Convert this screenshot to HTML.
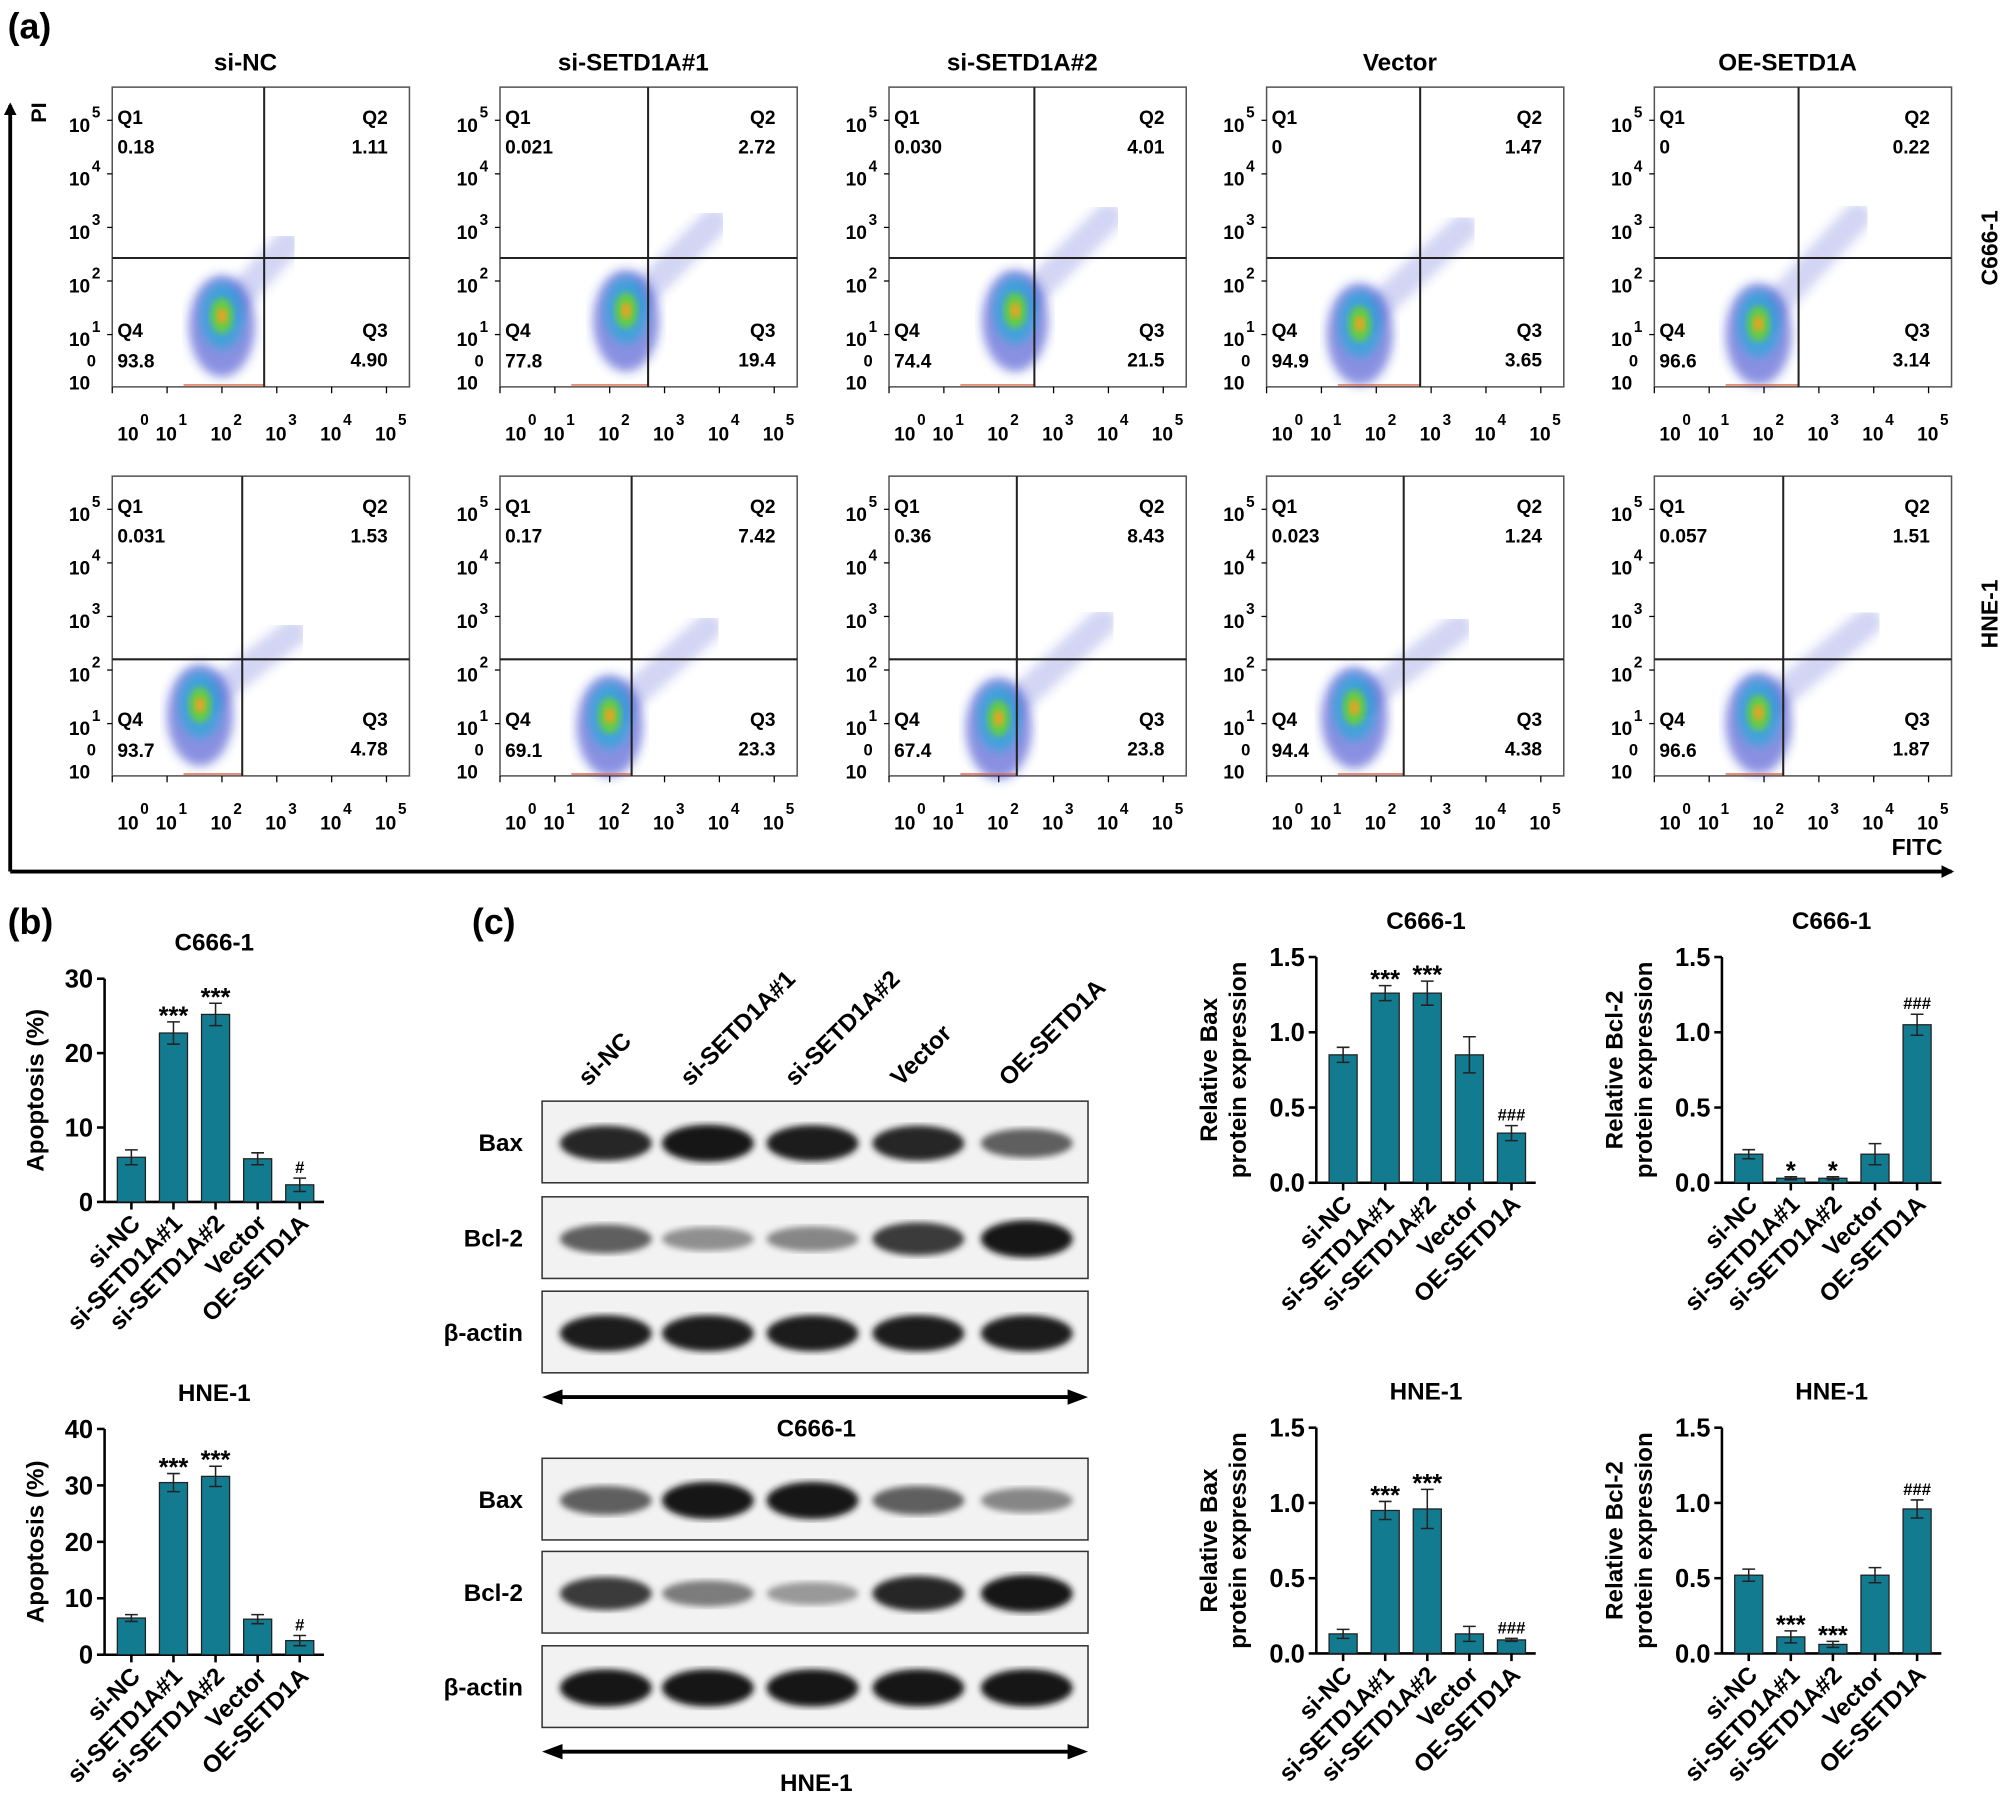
<!DOCTYPE html>
<html><head><meta charset="utf-8">
<style>
html,body{margin:0;padding:0;background:#fff;}
svg{display:block;font-family:"Liberation Sans",Arial,sans-serif;}
text{font-weight:bold;}
</style></head>
<body>
<svg id="fig" width="2000" height="1812" viewBox="0 0 1568 1420" xmlns="http://www.w3.org/2000/svg">
<defs>
<filter id="blur2"><feGaussianBlur stdDeviation="2.5"/></filter>
<filter id="blur4"><feGaussianBlur stdDeviation="4"/></filter>
<marker id="arr" markerWidth="10" markerHeight="10" refX="8" refY="5" orient="auto" markerUnits="userSpaceOnUse"><path d="M0,0 L10,5 L0,10 z" fill="#000"/></marker>
</defs>
<text x="6" y="30" font-size="28">(a)</text>
<line x1="8" y1="683" x2="8" y2="82" stroke="#000" stroke-width="3" marker-end="url(#arr)"/>
<line x1="8" y1="683" x2="1530" y2="683" stroke="#000" stroke-width="3" marker-end="url(#arr)"/>
<text x="0" y="0" font-size="17" transform="translate(36,96) rotate(-90)">PI</text>
<text x="1483" y="670" font-size="18">FITC</text>
<text x="370" y="732" font-size="28">(c)</text>
<text x="6" y="732" font-size="28">(b)</text>
<g id="flow"></g>
<g id="blot"></g>
<g id="bars"></g>
</svg>
<script>
const NS="http://www.w3.org/2000/svg";
function mk(tag,attrs,parent,txt){const e=document.createElementNS(NS,tag);for(const k in attrs)e.setAttribute(k,attrs[k]);if(txt!==undefined)e.textContent=txt;parent.appendChild(e);return e;}

// ---------- Flow cytometry data ----------
const flowTitles=["si-NC","si-SETD1A#1","si-SETD1A#2","Vector","OE-SETD1A"];
const flowRows=["C666-1","HNE-1"];
const q1Vals=[["0.18","0.021","0.030","0","0"],["0.031","0.17","0.36","0.023","0.057"]];
const q2Vals=[["1.11","2.72","4.01","1.47","0.22"],["1.53","7.42","8.43","1.24","1.51"]];
const q3Vals=[["4.90","19.4","21.5","3.65","3.14"],["4.78","23.3","23.8","4.38","1.87"]];
const q4Vals=[["93.8","77.8","74.4","94.9","96.6"],["93.7","69.1","67.4","94.4","96.6"]];
// quadrant gate positions (log10 units)
const gateX=[[2.77,2.7,2.65,2.8,2.63],[2.37,2.4,2.33,2.5,2.35]];
const gateY=[[2.43,2.43,2.43,2.43,2.43],[2.2,2.2,2.2,2.2,2.2]];
// main cluster centre (log10) and tail extent
const clusterX=[[2.0,2.3,2.3,1.7,1.9],[1.6,2.0,2.0,1.6,1.9]];
const clusterY=[[1.35,1.45,1.45,1.2,1.2],[1.35,1.15,1.1,1.3,1.2]];
const tailX=[[3.2,3.9,4.0,3.6,3.7],[3.3,3.8,3.9,3.5,3.9]];
const tailY=[[2.7,3.1,3.2,3.0,3.2],[2.7,2.8,2.9,2.8,2.9]];

const flowG=document.getElementById('flow');
const colX=[88,392,697,993,1297];
const rowY=[68,373];
const W=233,H=235;
function lx(v){return 43*v;}
function ly(v){return 194-42*(v-1);}
flowTitles.forEach((t,c)=>{
  const el=mk('text',{x:colX[c]+W/2-12,y:55,'font-size':19,'text-anchor':'middle'},flowG,t);
  
  
});
const rowLabY=[194,481];
flowRows.forEach((r,ri)=>{
  const el=mk('text',{transform:`translate(1566,${rowLabY[ri]}) rotate(-90)`,'font-size':18,'text-anchor':'middle'},flowG,r);
  
  
  for(let c=0;c<5;c++){
    const g=mk('g',{transform:`translate(${colX[c]},${rowY[ri]})`},flowG);
    
    
    mk('rect',{x:0,y:0,width:W,height:H,fill:'#fff',stroke:'#555','stroke-width':1.2},g);
    const cx=lx(clusterX[ri][c]),cy=ly(clusterY[ri][c]);
    const tx=lx(tailX[ri][c]),ty=ly(tailY[ri][c]);
    mk('line',{x1:cx,y1:cy,x2:tx,y2:ty,stroke:'#3344cc','stroke-width':22,'stroke-opacity':0.22,'stroke-linecap':'round',filter:'url(#blur4)'},g);
    mk('ellipse',{cx:cx,cy:cy+8,rx:26,ry:40,fill:'#2a36c8','fill-opacity':0.55,filter:'url(#blur4)'},g);
    mk('ellipse',{cx:cx,cy:cy,rx:17,ry:26,fill:'#2aa8d8','fill-opacity':0.75,filter:'url(#blur4)'},g);
    mk('ellipse',{cx:cx,cy:cy,rx:9,ry:14,fill:'#66cc44',filter:'url(#blur2)'},g);
    mk('ellipse',{cx:cx,cy:cy,rx:4,ry:6,fill:'#f0a020',filter:'url(#blur2)'},g);
    mk('line',{x1:lx(1.3),y1:H-1.5,x2:lx(gateX[ri][c]),y2:H-1.5,stroke:'#e06040','stroke-width':1.5,'stroke-opacity':0.7},g);
    const gx=lx(gateX[ri][c]),gy=ly(gateY[ri][c]);
    mk('line',{x1:gx,y1:0,x2:gx,y2:H,stroke:'#222','stroke-width':1.6},g);
    mk('line',{x1:0,y1:gy,x2:W,y2:gy,stroke:'#222','stroke-width':1.6},g);
    const f={'font-size':15};
    mk('text',Object.assign({x:4,y:29},f),g,'Q1');
    mk('text',Object.assign({x:4,y:52},f),g,q1Vals[ri][c]);
    mk('text',Object.assign({x:W-17,y:29,'text-anchor':'end'},f),g,'Q2');
    mk('text',Object.assign({x:W-17,y:52,'text-anchor':'end'},f),g,q2Vals[ri][c]);
    mk('text',Object.assign({x:4,y:196},f),g,'Q4');
    mk('text',Object.assign({x:4,y:220},f),g,q4Vals[ri][c]);
    mk('text',Object.assign({x:W-17,y:196,'text-anchor':'end'},f),g,'Q3');
    mk('text',Object.assign({x:W-17,y:219,'text-anchor':'end'},f),g,q3Vals[ri][c]);
    // y ticks
    [5,4,3,2,1].forEach(p=>{
      const y=ly(p);
      mk('line',{x1:-4,y1:y,x2:0,y2:y,stroke:'#000'},g);
      mk('text',{x:-34,y:y+9,'font-size':15},g,'10');
      mk('text',{x:-16,y:y-2,'font-size':12},g,String(p));
    });
    mk('text',{x:-20,y:H-16,'font-size':13},g,'0');
    mk('text',{x:-34,y:H+2,'font-size':15},g,'10');
    // x ticks
    [0,1,2,3,4,5].forEach(p=>{
      const x=p===0?4:lx(p)-9;
      mk('line',{x1:lx(p),y1:H,x2:lx(p),y2:H+5,stroke:'#000'},g);
      mk('text',{x:x,y:H+42,'font-size':15},g,'10');
      mk('text',{x:x+18,y:H+30,'font-size':12},g,String(p));
    });
  }
});

// ---------- Western blots ----------
const lanes=["si-NC","si-SETD1A#1","si-SETD1A#2","Vector","OE-SETD1A"];
const laneX=[475,555,637,720,805];
const blotRows=["Bax","Bcl-2","β-actin","Bax","Bcl-2","β-actin"];
const blotTop=[863,938,1012,1143,1216,1290];
const bandC666Bax=[0.85,0.95,0.9,0.85,0.55];
const bandC666Bcl=[0.55,0.3,0.35,0.75,0.95];
const bandC666Act=[0.9,0.9,0.9,0.9,0.9];
const bandHNEBax=[0.55,0.95,0.95,0.55,0.35];
const bandHNEBcl=[0.75,0.4,0.25,0.85,0.95];
const bandHNEAct=[0.95,0.95,0.95,0.95,0.95];
const bands=[bandC666Bax,bandC666Bcl,bandC666Act,bandHNEBax,bandHNEBcl,bandHNEAct];
const blotG=document.getElementById('blot');
lanes.forEach((l,i)=>{
  const el=mk('text',{transform:`translate(${laneX[i]-14},${852}) rotate(-45)`,'font-size':19,'text-anchor':'start','font-weight':'normal'},blotG,l);
  
  
});
blotRows.forEach((r,ri)=>{
  const y=blotTop[ri];
  const g=mk('g',{},blotG);
  
  
  mk('rect',{x:425,y:y,width:428,height:64,fill:'#f2f2f2',stroke:'#333','stroke-width':1.2},g);
  mk('text',{x:410,y:y+39,'font-size':19,'text-anchor':'end'},g,r);
  bands[ri].forEach((v,i)=>{
    const gray=Math.round(200-190*v);
    mk('ellipse',{cx:laneX[i],cy:y+33,rx:36,ry:7+8*v,fill:`rgb(${gray},${gray},${gray})`,filter:'url(#blur2)'},g);
  });
});
[[1095,1120,"C666-1"],[1373,1398,"HNE-1"]].forEach(([ay,ty,t])=>{
  const l=mk('line',{x1:440,y1:ay,x2:838,y2:ay,stroke:'#000','stroke-width':3},blotG);
  
  
  mk('path',{d:`M425,${ay} L441,${ay-6} L441,${ay+6} z`,fill:'#000'},blotG);
  mk('path',{d:`M853,${ay} L837,${ay-6} L837,${ay+6} z`,fill:'#000'},blotG);
  const tt=mk('text',{x:640,y:ty+6,'font-size':19,'text-anchor':'middle'},blotG,t);
  
  
});

// ---------- Bar charts ----------
const categories=["si-NC","si-SETD1A#1","si-SETD1A#2","Vector","OE-SETD1A"];
const apopC666=[6.0,22.7,25.2,5.8,2.3];
const apopC666Err=[1.0,1.5,1.5,0.8,0.9];
const apopC666Sig=["","***","***","","#"];
const apopHNE=[6.5,30.5,31.6,6.3,2.5];
const apopHNEErr=[0.6,1.6,1.8,0.8,0.9];
const apopHNESig=["","***","***","","#"];
const baxC666=[0.85,1.26,1.26,0.85,0.33];
const baxC666Err=[0.05,0.05,0.08,0.12,0.05];
const baxC666Sig=["","***","***","","###"];
const bclC666=[0.19,0.03,0.03,0.19,1.05];
const bclC666Err=[0.03,0.01,0.01,0.07,0.07];
const bclC666Sig=["","*","*","","###"];
const baxHNE=[0.13,0.95,0.96,0.13,0.09];
const baxHNEErr=[0.03,0.06,0.13,0.05,0.01];
const baxHNESig=["","***","***","","###"];
const bclHNE=[0.52,0.11,0.06,0.52,0.96];
const bclHNEErr=[0.04,0.04,0.02,0.05,0.06];
const bclHNESig=["","***","***","","###"];
const ticksApop30=[0,10,20,30];
const ticksApop40=[0,10,20,30,40];
const ticksRel=["0.0","0.5","1.0","1.5"];

const barsG=document.getElementById('bars');
function barChart(o){
  const g=mk('g',{},barsG);
  
  
  const ymax=o.ticks[o.ticks.length-1]*1;
  const sy=v=>o.y0-(v/ymax)*(o.y0-o.y1);
  const sx=i=>o.x0+21+i*33;
  mk('text',{x:o.x0+86,y:o.y1-22,'font-size':19,'text-anchor':'middle'},g,o.title);
  mk('line',{x1:o.x0,y1:o.y1,x2:o.x0,y2:o.y0,stroke:'#000','stroke-width':2},g);
  mk('line',{x1:o.x0,y1:o.y0,x2:o.x0+172,y2:o.y0,stroke:'#000','stroke-width':2},g);
  o.ticks.forEach(t=>{
    const y=sy(+t);
    mk('line',{x1:o.x0-6,y1:y,x2:o.x0,y2:y,stroke:'#000','stroke-width':2},g);
    mk('text',{x:o.x0-9,y:y+7,'font-size':20,'text-anchor':'end'},g,String(t));
  });
  o.labels.forEach((l,k)=>{
    mk('text',{transform:`translate(${o.ylx+k*23},${(o.y0+o.y1)/2}) rotate(-90)`,'font-size':19,'text-anchor':'middle','font-weight':'normal'},g,l);
  });
  o.vals.forEach((v,i)=>{
    const x=sx(i);
    const b=mk('rect',{x:x-11,y:sy(v),width:22,height:o.y0-sy(v),fill:'#127b90',stroke:'#222','stroke-width':1},g);
    
    
    const e=o.err[i];
    mk('path',{d:`M${x},${sy(v-e)}V${sy(v+e)}M${x-5},${sy(v+e)}H${x+5}M${x-5},${sy(v-e)}H${x+5}`,stroke:'#222','stroke-width':1.2,fill:'none'},g);
    mk('line',{x1:x,y1:o.y0,x2:x,y2:o.y0+6,stroke:'#000','stroke-width':2},g);
    if(o.sig[i]){
      const star=o.sig[i].indexOf('*')>=0;
      mk('text',{x:x,y:sy(v+e)-(star?-2:4),'font-size':star?20:13,'text-anchor':'middle','font-weight':star?'bold':'normal'},g,o.sig[i]);
    }
    mk('text',{transform:`translate(${x+8},${o.y0+18}) rotate(-45)`,'font-size':19,'text-anchor':'end','font-weight':'normal'},g,categories[i]);
  });
}
barChart({name:'apoptosis-c666-chart',title:'C666-1',x0:82,y0:942,y1:767,ticks:ticksApop30,vals:apopC666,err:apopC666Err,sig:apopC666Sig,labels:['Apoptosis (%)'],ylx:34});
barChart({name:'apoptosis-hne-chart',title:'HNE-1',x0:82,y0:1297,y1:1120,ticks:ticksApop40,vals:apopHNE,err:apopHNEErr,sig:apopHNESig,labels:['Apoptosis (%)'],ylx:34});
barChart({name:'bax-c666-chart',title:'C666-1',x0:1032,y0:927,y1:750,ticks:ticksRel,vals:baxC666,err:baxC666Err,sig:baxC666Sig,labels:['Relative Bax','protein expression'],ylx:954});
barChart({name:'bcl2-c666-chart',title:'C666-1',x0:1350,y0:927,y1:750,ticks:ticksRel,vals:bclC666,err:bclC666Err,sig:bclC666Sig,labels:['Relative Bcl-2','protein expression'],ylx:1272});
barChart({name:'bax-hne-chart',title:'HNE-1',x0:1032,y0:1296,y1:1119,ticks:ticksRel,vals:baxHNE,err:baxHNEErr,sig:baxHNESig,labels:['Relative Bax','protein expression'],ylx:954});
barChart({name:'bcl2-hne-chart',title:'HNE-1',x0:1350,y0:1296,y1:1119,ticks:ticksRel,vals:bclHNE,err:bclHNEErr,sig:bclHNESig,labels:['Relative Bcl-2','protein expression'],ylx:1272});
</script>
</body></html>
